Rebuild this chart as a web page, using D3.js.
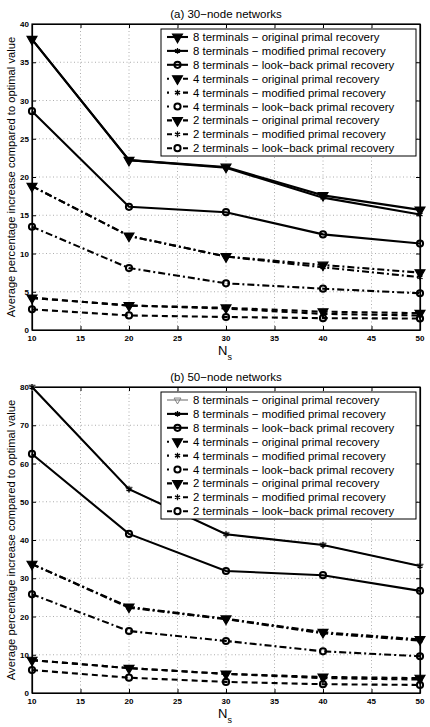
<!DOCTYPE html>
<html>
<head>
<meta charset="utf-8">
<script src="https://cdn.jsdelivr.net/npm/d3@7"></script>
<style>
  body { margin: 0; background: #fff; }
  svg { display: block; font-family: "Liberation Sans", Arial, sans-serif; }
  .tick-label { font-size: 8px; font-weight: bold; }
  .legend-text { font-size: 11.4px; }
</style>
</head>
<body>
<script>
// x values (number of samples N_s)
var nsValues = [10, 20, 30, 40, 50];

// (a) 30-node networks
var a8orig = [38.0, 22.2, 21.3, 17.6, 15.7];
var a8mod  = [38.0, 22.2, 21.2, 17.3, 15.1];
var a8look = [28.6, 16.1, 15.4, 12.5, 11.3];
var a4orig = [18.8, 12.3, 9.6, 8.5, 7.5];
var a4mod  = [18.8, 12.3, 9.6, 8.2, 6.9];
var a4look = [13.5, 8.1, 6.1, 5.4, 4.8];
var a2orig = [4.2, 3.2, 2.9, 2.4, 2.2];
var a2mod  = [4.2, 3.2, 2.8, 2.1, 1.9];
var a2look = [2.7, 1.9, 1.7, 1.55, 1.5];

// (b) 50-node networks
var b8orig = [80.0, 53.3, 41.5, 38.7, 33.2];
var b8mod  = [80.0, 53.3, 41.5, 38.7, 33.2];
var b8look = [62.5, 41.6, 31.9, 30.8, 26.7];
var b4orig = [33.7, 22.5, 19.4, 15.9, 14.0];
var b4mod  = [33.7, 22.3, 19.3, 15.6, 13.7];
var b4look = [25.8, 16.2, 13.6, 10.9, 9.6];
var b2orig = [8.6, 6.5, 5.0, 4.2, 3.9];
var b2mod  = [8.6, 6.5, 5.0, 3.9, 3.5];
var b2look = [6.0, 4.0, 2.9, 2.3, 2.1];

var xTicks = [10, 15, 20, 25, 30, 35, 40, 45, 50];
var aYTicks = [0, 5, 10, 15, 20, 25, 30, 35, 40];
var bYTicks = [0, 10, 20, 30, 40, 50, 60, 70, 80];

var legendLabels = [
  "8 terminals \u2212 original primal recovery",
  "8 terminals \u2212 modified primal recovery",
  "8 terminals \u2212 look\u2212back primal recovery",
  "4 terminals \u2212 original primal recovery",
  "4 terminals \u2212 modified primal recovery",
  "4 terminals \u2212 look\u2212back primal recovery",
  "2 terminals \u2212 original primal recovery",
  "2 terminals \u2212 modified primal recovery",
  "2 terminals \u2212 look\u2212back primal recovery"
];

// line styles: solid for 8, dash-dot for 4, dashed for 2
// (second value of each pair is the short pattern used in the legend)
var dashSolid = [null, null];
var dashDot = ["7,3,2,3", "2,14,5"];
var dashDash = ["6,4", "5,11,5"];

var width = 430, height = 727;
var svg = d3.select("body").append("svg")
    .attr("width", width)
    .attr("height", height);

function markerPath(kind, small) {
  if (kind == "tri") return d3.symbol().type(d3.symbolTriangle).size(small ? 20 : 42)();
  if (kind == "star") return d3.symbol().type(d3.symbolAsterisk).size(24)();
  return d3.symbol().type(d3.symbolCircle).size(30)();
}

function drawMarker(g, kind, x, y, color, small) {
  var p = g.append("path")
    .attr("d", markerPath(kind, small))
    .attr("transform", "translate(" + x + "," + y + ")" + (kind == "tri" ? " rotate(180)" : ""));
  if (kind == "tri") {
    p.attr("fill", small ? "none" : color).attr("stroke", color).attr("stroke-width", small ? 1 : 1.2);
  } else if (kind == "star") {
    p.attr("fill", "none").attr("stroke", color).attr("stroke-width", 1.3);
  } else {
    p.attr("fill", "none").attr("stroke", color).attr("stroke-width", 2);
  }
}

function drawPanel(p) {
  var x = d3.scaleLinear().domain([10, 50]).range([32, 420]);
  var y = d3.scaleLinear().domain([0, p.yMax]).range([p.bottom, p.top]);
  var g = svg.append("g");

  // grid
  g.selectAll(".gx").data(xTicks.slice(1, -1)).enter().append("line")
    .attr("x1", d => x(d)).attr("x2", d => x(d))
    .attr("y1", p.top).attr("y2", p.bottom)
    .attr("stroke", "#999").attr("stroke-width", 0.8).attr("stroke-dasharray", "1,2.5");
  g.selectAll(".gy").data(p.yTicks.slice(1, -1)).enter().append("line")
    .attr("y1", d => y(d)).attr("y2", d => y(d))
    .attr("x1", 32).attr("x2", 420)
    .attr("stroke", "#999").attr("stroke-width", 0.8).attr("stroke-dasharray", "1,2.5");

  // axes with inward ticks on all four sides
  g.append("g").attr("transform", "translate(0," + p.bottom + ")")
    .call(d3.axisBottom(x).tickValues(xTicks).tickSizeInner(-4).tickSizeOuter(0).tickFormat(""));
  g.append("g").attr("transform", "translate(0," + p.top + ")")
    .call(d3.axisTop(x).tickValues(xTicks).tickSizeInner(-4).tickSizeOuter(0).tickFormat(""));
  g.append("g").attr("transform", "translate(32,0)")
    .call(d3.axisLeft(y).tickValues(p.yTicks).tickSizeInner(-4).tickSizeOuter(0).tickFormat(""));
  g.append("g").attr("transform", "translate(420,0)")
    .call(d3.axisRight(y).tickValues(p.yTicks).tickSizeInner(-4).tickSizeOuter(0).tickFormat(""));
  g.selectAll(".domain").attr("stroke", "#000").attr("stroke-width", 1.2);
  g.selectAll(".tick line").attr("stroke", "#000");

  g.append("rect")
    .attr("x", 32).attr("y", p.top).attr("width", 388).attr("height", p.bottom - p.top)
    .attr("fill", "none").attr("stroke", "#000").attr("stroke-width", 1.2);

  // tick labels
  g.selectAll(".xl").data(xTicks).enter().append("text")
    .attr("class", "tick-label")
    .attr("x", d => x(d)).attr("y", p.bottom + 11)
    .attr("text-anchor", "middle")
    .text(d => d);
  g.selectAll(".yl").data(p.yTicks).enter().append("text")
    .attr("class", "tick-label")
    .attr("x", 29).attr("y", d => y(d) + 3)
    .attr("text-anchor", "end")
    .text(d => d);

  // title and labels
  g.append("text")
    .attr("x", 226).attr("y", p.top - 6)
    .attr("text-anchor", "middle").attr("font-size", "11.5px")
    .text(p.title);
  var xl = g.append("text").attr("x", 218).attr("y", p.bottom + 25).attr("font-size", "13px");
  xl.append("tspan").text("N");
  xl.append("tspan").attr("font-size", "9px").attr("dy", 5).text("s");
  g.append("text")
    .attr("transform", "translate(15," + ((p.top + p.bottom) / 2) + ") rotate(-90)")
    .attr("text-anchor", "middle").attr("font-size", "11.2px")
    .text("Average percentage increase compared to optimal value");

  var line = d3.line().x((d, i) => x(nsValues[i])).y(d => y(d));

  p.series.forEach(function(s) {
    g.append("path")
      .attr("d", line(s.values))
      .attr("fill", "none")
      .attr("stroke", s.color)
      .attr("stroke-width", s.thin ? 1.2 : 2.1)
      .attr("stroke-dasharray", s.dash[0]);
    s.values.forEach(function(v, i) {
      drawMarker(g, s.marker, x(nsValues[i]), y(v), s.color, s.thin);
    });
  });

  // legend
  var lg = g.append("g");
  lg.append("rect")
    .attr("x", 161).attr("y", p.legTop)
    .attr("width", 255).attr("height", 127)
    .attr("fill", "#fff").attr("stroke", "#000").attr("stroke-width", 1);
  p.series.forEach(function(s, i) {
    var cy = p.legTop + 8 + i * 13.9;
    lg.append("line")
      .attr("x1", 167).attr("x2", 188).attr("y1", cy).attr("y2", cy)
      .attr("stroke", s.color).attr("stroke-width", s.thin ? 1.2 : 2.1)
      .attr("stroke-dasharray", s.dash[1]);
    drawMarker(lg, s.marker, 177.5, cy, s.color, s.thin);
    lg.append("text")
      .attr("class", "legend-text")
      .attr("x", 193).attr("y", cy + 4)
      .text(legendLabels[i]);
  });
}

function makeSeries(vals, firstColor, firstThin) {
  var markers = ["tri", "star", "circle"];
  var dashes = [dashSolid, dashSolid, dashSolid, dashDot, dashDot, dashDot, dashDash, dashDash, dashDash];
  return vals.map(function(v, i) {
    return {
      values: v,
      marker: markers[i % 3],
      dash: dashes[i],
      color: i == 0 ? firstColor : "#000",
      thin: i == 0 ? firstThin : false
    };
  });
}

drawPanel({
  top: 24, bottom: 330, yMax: 40, yTicks: aYTicks, legTop: 29,
  title: "(a) 30\u2212node networks",
  series: makeSeries([a8orig, a8mod, a8look, a4orig, a4mod, a4look, a2orig, a2mod, a2look], "#000", false)
});

drawPanel({
  top: 387, bottom: 693, yMax: 80, yTicks: bYTicks, legTop: 392,
  title: "(b) 50\u2212node networks",
  series: makeSeries([b8orig, b8mod, b8look, b4orig, b4mod, b4look, b2orig, b2mod, b2look], "#808080", true)
});
</script>
</body>
</html>
